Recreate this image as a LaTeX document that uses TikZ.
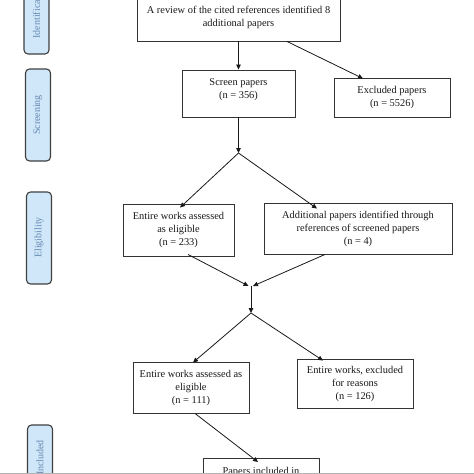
\documentclass[tikz,border=0pt]{standalone}
\usepackage{fontspec}
\setmainfont{Liberation Serif}
\usetikzlibrary{arrows.meta,calc}
\definecolor{lblue}{HTML}{CFE7F8}
\definecolor{ltext}{HTML}{6688B3}
\begin{document}
\begin{tikzpicture}[x=1pt,y=-1pt,
  box/.style={draw=black!80,line width=0.9pt,align=center,font=\fontsize{10.4}{13}\selectfont,text=black!90,inner sep=0pt},
  phase/.style={draw=black!75,line width=1.1pt,rounded corners=4pt,fill=lblue,minimum width=25pt,inner sep=0pt},
  phasetext/.style={rotate=90,font=\fontsize{10}{12}\selectfont,text=ltext,inner sep=0pt},
  arr/.style={-{Triangle[length=5pt,width=4.5pt]},line width=0.8pt,black!90}]
\useasboundingbox (0,0) rectangle (474,474);
\clip (0,0) rectangle (474,474);
\fill[white] (0,0) rectangle (474,474);
% phase labels
\node[phase,minimum height=94pt] (pid) at (36.5,7) {};
\node[phasetext] (tid) at (36.5,11.5) {Identification};
\node[phase,minimum height=92pt] (psc) at (38,115) {};
\node[phasetext] (tsc) at (38,115) {Screening};
\node[phase,minimum height=92pt] (pel) at (39,238) {};
\node[phasetext] (tel) at (39,237.5) {Eligibility};
\node[phase,minimum height=92pt] (pin) at (40,471) {};
\node[phasetext] (tin) at (40,457.5) {Included};
% boxes
\node[box,minimum width=203pt,minimum height=47pt] (top) at (238.5,17.5) {A review of the cited references identified 8\\additional papers};
\node[box,minimum width=113pt,minimum height=47pt,text depth=9.5pt] (screen) at (238.5,93.5) {Screen papers\\(n = 356)};
\node[box,minimum width=116pt,minimum height=39pt] (excl) at (392,97.5) {Excluded papers\\(n = 5526)};
\node[box,minimum width=111pt,minimum height=52pt] (elig1) at (178.5,230) {Entire works assessed\\as eligible\\(n = 233)};
\node[box,minimum width=188pt,minimum height=51pt] (addl) at (358,228.5) {Additional papers identified through\\references of screened papers\\(n = 4)};
\node[box,minimum width=116pt,minimum height=51pt] (elig2) at (191,387.5) {Entire works assessed as\\eligible\\(n = 111)};
\node[box,minimum width=116pt,minimum height=49pt] (exclr) at (355,383.5) {Entire works, excluded\\for reasons\\(n = 126)};
\node[box,minimum width=116pt,anchor=north,inner ysep=9pt,text depth=40pt] (incl) at (261,458) {Papers included in};
% junctions
\coordinate (j1) at (238.5,153);
\coordinate (j2) at (251,286);
\coordinate (j3) at (251,313);
% connectors
\draw[arr] (top.south) -- (screen.north);
\draw[arr] ([xshift=48.5pt]top.south) -- ([xshift=-29pt,yshift=-1pt]excl.north);
\draw[arr] (screen.south) -- (j1);
\draw[arr] (j1) -- ([xshift=1.5pt,yshift=-4pt]elig1.north);
\draw[arr] (j1) -- ([xshift=-41pt,yshift=-6pt]addl.north);
\draw[arr] ([xshift=9.5pt,yshift=2pt]elig1.south) -- ([xshift=-2.5pt]j2);
\draw[arr] ([xshift=-33pt]addl.south) -- ([xshift=2pt]j2);
\draw[arr] (j2) -- (j3);
\draw[arr] (j3) -- ([xshift=2pt,yshift=-1pt]elig2.north);
\draw[arr] (j3) -- ([xshift=-32pt,yshift=-2pt]exclr.north);
\draw[arr] ([xshift=4pt]elig2.south) -- ([xshift=-3pt,yshift=-4pt]incl.north);
% bottom edge line
\draw[black!30,line width=0.8pt] (0,473.3) -- (474,473.3);
\end{tikzpicture}
\end{document}
